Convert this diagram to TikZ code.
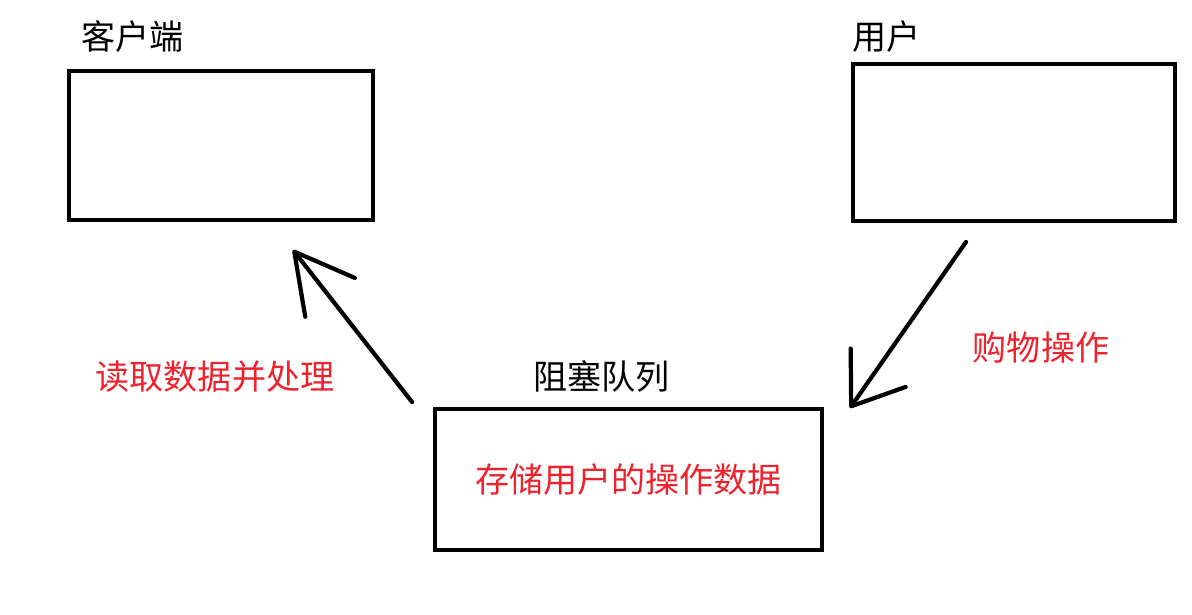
\documentclass[tikz,border=0pt]{standalone}
\usepackage{fontspec}
\newfontfamily\cjk{Noto Sans CJK SC}
\usetikzlibrary{arrows.meta,positioning}
\definecolor{redtxt}{RGB}{238,34,44}

\begin{document}
\begin{tikzpicture}[
    box/.style={draw, line width=1.2pt, inner sep=0pt},
    tag/.style={font=\cjk\fontsize{9.7}{12}\selectfont, inner sep=0pt},
    note/.style={tag, text=redtxt},
    arw/.style={line width=1.2pt, line cap=round},
  ]
    \useasboundingbox (0,0) rectangle (11.92,6.14);

    % Boxes
    \node[box, minimum width=3.04cm, minimum height=1.49cm] (client) at (2.21,4.685) {};
    \node[box, minimum width=3.22cm, minimum height=1.57cm] (user) at (10.14,4.715) {};
    \node[box, minimum width=3.87cm, minimum height=1.41cm, note] (queue) at (6.285,1.345) {存储用户的操作数据};

    % Titles
    \node[tag, above right=0.16cm and 0.14cm of client.north west] {客户端};
    \node[tag, above right=0.09cm and 0.01cm of user.north west] {用户};
    \node[tag, above right=0.14cm and 1.0cm of queue.north west] {阻塞队列};

    % Arrow ends
    \coordinate (readfrom) at (4.12,2.12);
    \coordinate (readto) at (2.93,3.64);
    \coordinate (buyfrom) at (9.66,3.72);
    \coordinate (buyto) at (8.50,2.06);

    % Arrows
    \draw[arw, -{Straight Barb[length=5.8mm, width=6.3mm, round]}] (readfrom) -- (readto);
    \draw[arw, -{Straight Barb[length=4.7mm, width=6.7mm, round]}] (buyfrom) -- (buyto);

    % Labels
    \node[note] (readlbl) at (2.15,2.37) {读取数据并处理};
    \node[note] (buylbl) at (10.41,2.66) {购物操作};

  \end{tikzpicture}
\end{document}
